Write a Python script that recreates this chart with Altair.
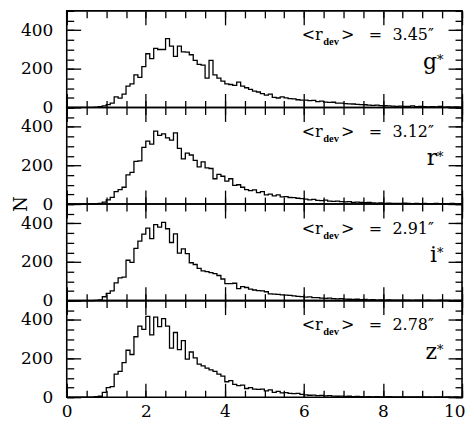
import altair as alt
import pandas as pd

# ---------------- data ----------------
bin_left = [round(0.1 * i, 1) for i in range(100)]   # bin starts, width 0.1

g_counts = [
    0, 0, 0, 0, 0, 0, 0, 2, 4, 8,
    15, 22, 55, 48, 69, 110, 122, 169, 156, 211,
    278, 253, 306, 300, 300, 356, 318, 265, 318, 288,
    286, 273, 244, 223, 219, 152, 244, 169, 152, 136,
    122, 119, 114, 131, 110, 102, 94, 85, 80, 72,
    64, 69, 52, 49, 55, 50, 46, 44, 40, 38,
    38, 35, 37, 30, 33, 28, 26, 27, 23, 22,
    20, 19, 18, 16, 15, 14, 12, 11, 12, 10,
    9, 8, 7, 6, 7, 5, 6, 8, 4, 5,
    4, 3, 4, 3, 5, 2, 3, 2, 3, 2,
]
r_counts = [
    0, 0, 0, 0, 0, 0, 0, 1, 3, 10,
    22, 35, 64, 75, 87, 151, 164, 221, 224, 293,
    326, 310, 377, 355, 363, 343, 331, 368, 288, 234,
    264, 254, 226, 192, 218, 187, 184, 131, 154, 144,
    119, 131, 97, 100, 87, 75, 70, 73, 59, 64,
    47, 51, 42, 47, 37, 38, 34, 33, 30, 28,
    26, 22, 24, 19, 18, 20, 15, 14, 15, 12,
    11, 12, 9, 10, 8, 7, 8, 6, 5, 6,
    4, 5, 3, 4, 3, 5, 3, 2, 3, 2,
    4, 2, 1, 3, 2, 1, 2, 3, 1, 1,
]
i_counts = [
    0, 0, 0, 0, 0, 0, 0, 1, 4, 20,
    37, 50, 92, 118, 122, 209, 198, 271, 308, 344,
    375, 321, 393, 380, 405, 372, 301, 346, 246, 268,
    243, 196, 187, 167, 154, 150, 145, 140, 130, 112,
    88, 88, 90, 62, 72, 68, 60, 55, 52, 50,
    46, 35, 34, 32, 30, 29, 27, 25, 22, 21,
    18, 19, 15, 16, 13, 12, 13, 10, 9, 10,
    8, 7, 6, 7, 5, 6, 4, 5, 3, 4,
    3, 4, 2, 3, 2, 3, 2, 1, 2, 2,
    1, 2, 1, 1, 2, 1, 1, 0, 1, 1,
]
z_counts = [
    0, 0, 0, 0, 0, 0, 0, 3, 5, 25,
    50, 55, 120, 134, 179, 243, 221, 313, 368, 351,
    418, 323, 415, 365, 407, 368, 254, 335, 246, 293,
    197, 234, 204, 171, 162, 151, 142, 134, 120, 109,
    80, 86, 66, 60, 62, 45, 50, 42, 40, 42,
    33, 38, 25, 30, 22, 24, 20, 18, 20, 15,
    12, 10, 11, 8, 9, 7, 8, 6, 5, 6,
    4, 5, 3, 4, 3, 2, 3, 2, 3, 2,
    2, 3, 1, 2, 2, 1, 2, 1, 1, 2,
    1, 1, 0, 1, 1, 0, 1, 0, 1, 0,
]

bands = ["g", "r", "i", "z"]
mean_rdev = ["3.45", "3.12", "2.91", "2.78"]
all_counts = [g_counts, r_counts, i_counts, z_counts]

x_minor = [i * 0.5 for i in range(21)]
x_major = [0, 2, 4, 6, 8, 10]
y_minor = [i * 50 for i in range(11)]
y_major = [0, 200, 400]
y_title = "N"

# ---------------- layout / style ----------------
W = 397
H = 97
X_DOMAIN = [0, 10]
Y_DOMAIN = [0, 500]
FONT = "DejaVu Serif"
LABEL_SIZE = 17
MINOR_LEN = 7
MAJOR_LEN = 14

# annotation anchor positions (data units)
ANN_Y = 347
PIECES_X = {"lt": 5.945, "r": 6.28, "dev": 6.49, "gt": 6.94, "eq": 7.64, "val": 8.24}
BAND_X = 9.37
BAND_Y = 200
STAR_Y = 225
N_X = -1.12

xs = alt.Scale(domain=X_DOMAIN, nice=False, zero=False)
ys = alt.Scale(domain=Y_DOMAIN, nice=False, zero=False)


def tick_axis(orient, values, size, offset):
    return alt.Axis(orient=orient, offset=offset, values=values, tickSize=size,
                    ticks=True, labels=False, domain=False, grid=False, title=None,
                    tickColor="black", tickWidth=1.3)


def label_axis(orient, values, padding, **kw):
    return alt.Axis(orient=orient, values=values, ticks=False, tickSize=0, domain=False,
                    grid=False, title=None, labelFont=FONT, labelFontSize=LABEL_SIZE,
                    labelPadding=padding, labelOverlap=False, labelColor="black", **kw)


def ghost(df, x_axis, y_axis):
    return alt.Chart(df).mark_point(opacity=0).encode(
        x=alt.X("x:Q", scale=xs, axis=x_axis),
        y=alt.Y("n:Q", scale=ys, axis=y_axis),
    )


def panel(k):
    counts = all_counts[k]
    bottom = (k == len(all_counts) - 1)
    df = pd.DataFrame({"x": bin_left + [10.0], "n": counts + [counts[-1]]})

    hist = alt.Chart(df).mark_line(interpolate="step-after", color="black",
                                   strokeWidth=1.3).encode(
        x=alt.X("x:Q", scale=xs, axis=None),
        y=alt.Y("n:Q", scale=ys, axis=None),
    )
    # inward ticks on all four frame sides
    t1 = ghost(df, tick_axis("top", x_minor, MINOR_LEN, -H), tick_axis("right", y_minor, MINOR_LEN, -W))
    t2 = ghost(df, tick_axis("top", x_major, MAJOR_LEN, -H), tick_axis("right", y_major, MAJOR_LEN, -W))
    t3 = ghost(df, tick_axis("bottom", x_minor, MINOR_LEN, -H), tick_axis("left", y_minor, MINOR_LEN, -W))
    t4 = ghost(df, tick_axis("bottom", x_major, MAJOR_LEN, -H), tick_axis("left", y_major, MAJOR_LEN, -W))

    layers = [hist, t1, t2, t3, t4]

    y_lab = label_axis("left", y_major, 14, labelFlush=False)
    if bottom:
        x_lab = label_axis("bottom", x_major[:-1], 6, labelFlush=False)
        x_end = label_axis("bottom", x_major[-1:], 6, labelFlush=True, labelFlushOffset=3)
        layers.append(ghost(df, x_lab, y_lab))
        layers.append(ghost(df, x_end, None))
    else:
        layers.append(ghost(df, None, y_lab))

    main_txt = pd.DataFrame({
        "x": [PIECES_X["lt"], PIECES_X["r"], PIECES_X["gt"], PIECES_X["eq"], PIECES_X["val"]],
        "y": [ANN_Y] * 5,
        "t": ["<", "r", ">", "=", mean_rdev[k] + "\u2033"],
    })
    ann = alt.Chart(main_txt).mark_text(align="left", baseline="alphabetic", font=FONT,
                                        fontSize=16, color="black").encode(
        x=alt.X("x:Q", scale=xs, axis=None), y=alt.Y("y:Q", scale=ys, axis=None), text="t:N")
    sub = alt.Chart(pd.DataFrame({"x": [PIECES_X["dev"]], "y": [ANN_Y], "t": ["dev"]})).mark_text(
        align="left", baseline="alphabetic", font="Liberation Serif", fontSize=10.5,
        fontWeight="bold", dy=5, color="black").encode(
        x=alt.X("x:Q", scale=xs, axis=None), y=alt.Y("y:Q", scale=ys, axis=None), text="t:N")
    band = alt.Chart(pd.DataFrame({"x": [BAND_X], "y": [BAND_Y], "t": [bands[k]]})).mark_text(
        align="right", baseline="alphabetic", font=FONT, fontSize=22, color="black").encode(
        x=alt.X("x:Q", scale=xs, axis=None), y=alt.Y("y:Q", scale=ys, axis=None), text="t:N")
    star = alt.Chart(pd.DataFrame({"x": [BAND_X], "y": [STAR_Y], "t": ["*"]})).mark_text(
        align="left", baseline="alphabetic", font=FONT, fontSize=13, color="black").encode(
        x=alt.X("x:Q", scale=xs, axis=None), y=alt.Y("y:Q", scale=ys, axis=None), text="t:N")

    layers += [ann, sub, band, star]
    if k == 1:
        ntxt = alt.Chart(pd.DataFrame({"x": [N_X], "y": [0], "t": [y_title]})).mark_text(
            align="center", baseline="middle", angle=270, font=FONT, fontSize=18,
            color="black").encode(
            x=alt.X("x:Q", scale=xs, axis=None), y=alt.Y("y:Q", scale=ys, axis=None), text="t:N")
        layers.append(ntxt)

    return alt.layer(*layers).resolve_axis(x="independent", y="independent").properties(
        width=W, height=H)


chart = alt.vconcat(*[panel(k) for k in range(4)], spacing=0, bounds="flush").properties(
    padding={"left": 4, "top": 0, "right": 0, "bottom": 0}
).configure_view(stroke="black", strokeWidth=1.6)

chart.save("out.html", embed_options={"renderer": "svg", "actions": False})
